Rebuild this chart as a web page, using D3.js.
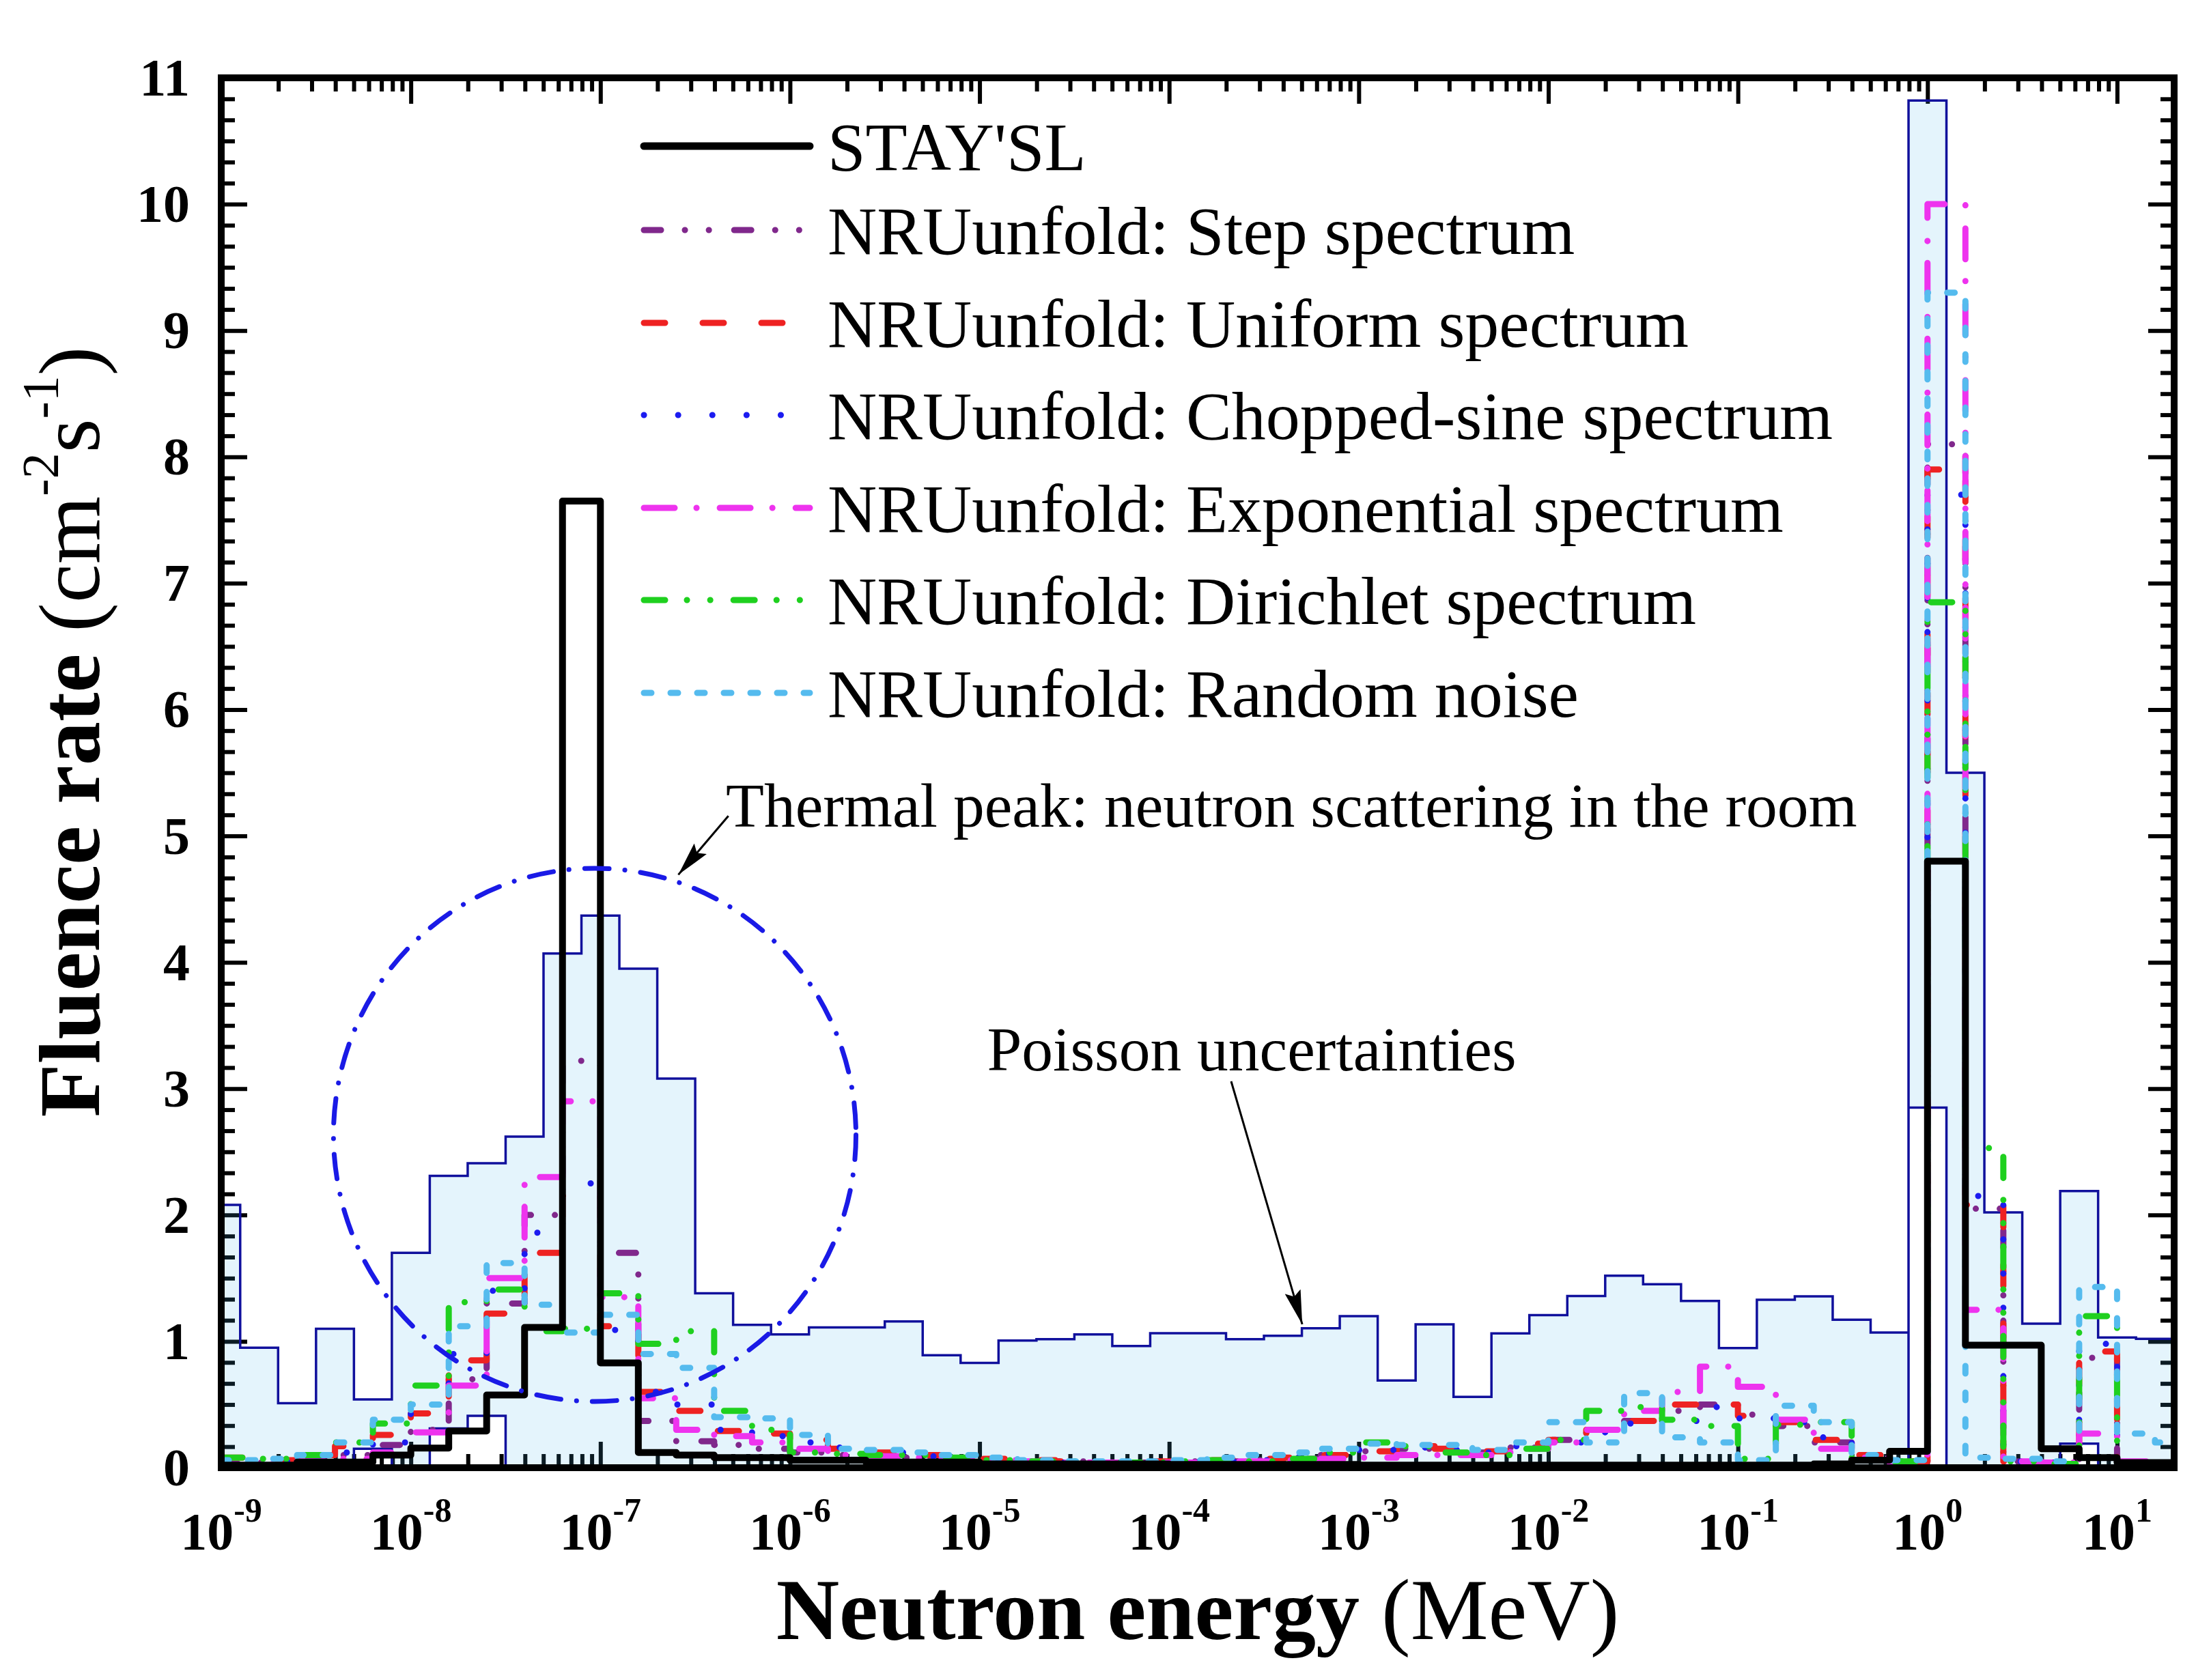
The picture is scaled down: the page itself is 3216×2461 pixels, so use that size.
<!DOCTYPE html>
<html>
<head>
<meta charset="utf-8">
<script src="https://cdn.jsdelivr.net/npm/d3@7"></script>
<style>
  body { margin: 0; background: #fff; }
  svg text { font-family: "Liberation Serif", "Times New Roman", serif; fill: #000; }
</style>
</head>
<body>
<script>
// ---- data (energies as log10 of MeV) ----

// STAY'SL unfolded spectrum, step histogram
const staysEdgeExp = [-9.0, -8.6, -8.2, -8.0, -7.8, -7.6, -7.4, -7.2, -7.0, -6.8, -6.6, -6.4, -6.0,
  -5.6, -5.0, -4.0, -3.0, -1.0, -0.6, -0.4, -0.2, 0.0, 0.2, 0.6, 0.8, 1.0, 1.301];
const staysRate = [0.02, 0.045, 0.10, 0.155, 0.29, 0.575, 1.11, 7.65, 0.83, 0.12, 0.10, 0.08, 0.06,
  0.045, 0.03, 0.025, 0.02, 0.02, 0.03, 0.06, 0.13, 4.80, 0.97, 0.15, 0.08, 0.04];

// Poisson uncertainty band (upper / lower bounds)
const bandEdgeExp = [-9.0, -8.9, -8.7, -8.5, -8.3, -8.1, -7.9, -7.7, -7.5, -7.3, -7.1, -6.9, -6.7,
  -6.5, -6.3, -6.1, -5.9, -5.7, -5.5, -5.3, -5.1, -4.9, -4.7, -4.5, -4.3, -4.1, -3.9, -3.7, -3.5,
  -3.3, -3.1, -2.9, -2.7, -2.5, -2.3, -2.1, -1.9, -1.7, -1.5, -1.3, -1.1, -0.9, -0.7, -0.5, -0.3,
  -0.1, 0.1, 0.3, 0.5, 0.7, 0.9, 1.1, 1.301];
const bandUpper = [2.08, 0.95, 0.51, 1.10, 0.54, 1.70, 2.31, 2.41, 2.62, 4.07,
  4.37, 3.95, 3.08, 1.38, 1.13, 1.055, 1.11, 1.11, 1.157, 0.89,
  0.83, 1.006, 1.017, 1.055, 0.963, 1.065, 1.065, 1.017, 1.044, 1.103,
  1.20, 0.69, 1.135, 0.56, 1.063, 1.207, 1.359, 1.52, 1.452, 1.32,
  0.947, 1.329, 1.356, 1.171, 1.07, 10.82, 5.50, 2.02, 1.14, 2.19,
  1.03, 1.02];
const bandLower = [0, 0, 0, 0, 0.15, 0, 0.31, 0.41, 0, 0,
  0, 0, 0, 0, 0, 0, 0, 0, 0, 0,
  0, 0, 0, 0, 0, 0, 0, 0, 0, 0,
  0, 0, 0, 0, 0, 0, 0, 0, 0, 0,
  0, 0, 0, 0, 0, 2.85, 0, 0, 0, 0.19,
  0, 0];

// NRUunfold results, common bin grid
const nruEdgeExp = [-9.0, -8.8, -8.6, -8.4, -8.2, -8.0, -7.8, -7.6, -7.4, -7.2, -7.0, -6.8, -6.6,
  -6.4, -6.2, -6.0, -5.8, -5.6, -5.4, -5.2, -5.0, -4.8, -4.6, -4.4, -4.2, -4.0, -3.8, -3.6, -3.4,
  -3.2, -3.0, -2.8, -2.6, -2.4, -2.2, -2.0, -1.8, -1.6, -1.4, -1.2, -1.0, -0.8, -0.6, -0.4, -0.2,
  0.0, 0.2, 0.4, 0.6, 0.8, 1.0, 1.2, 1.301];
const nruStep = [0.03, 0.04, 0.06, 0.10, 0.18, 0.30, 0.70, 1.30, 2.00, 3.22,
  1.70, 0.37, 0.21, 0.18, 0.15, 0.12, 0.10, 0.09, 0.08, 0.07,
  0.06, 0.05, 0.05, 0.04, 0.04, 0.05, 0.05, 0.06, 0.07, 0.10,
  0.13, 0.15, 0.12, 0.12, 0.16, 0.22, 0.30, 0.37, 0.45, 0.50,
  0.42, 0.33, 0.20, 0.10, 0.05, 8.10, 2.05, 0.05, 0.04, 0.87,
  0.04, 0.02];
const nruUniform = [0.08, 0.06, 0.10, 0.17, 0.26, 0.43, 0.85, 1.22, 1.70, 2.15,
  1.12, 0.60, 0.45, 0.29, 0.27, 0.22, 0.15, 0.12, 0.10, 0.08,
  0.07, 0.06, 0.05, 0.04, 0.05, 0.05, 0.06, 0.07, 0.08, 0.10,
  0.13, 0.17, 0.15, 0.13, 0.19, 0.22, 0.30, 0.37, 0.50, 0.50,
  0.41, 0.36, 0.22, 0.10, 0.05, 7.90, 2.08, 0.05, 0.04, 0.92,
  0.04, 0.02];
const nruChopped = [0.03, 0.05, 0.08, 0.12, 0.20, 0.50, 0.90, 1.40, 1.86, 2.25,
  1.09, 0.60, 0.50, 0.30, 0.25, 0.20, 0.16, 0.12, 0.09, 0.07,
  0.06, 0.05, 0.04, 0.04, 0.04, 0.05, 0.05, 0.06, 0.08, 0.11,
  0.14, 0.16, 0.14, 0.12, 0.17, 0.20, 0.28, 0.35, 0.37, 0.48,
  0.39, 0.36, 0.24, 0.10, 0.05, 7.70, 2.15, 0.05, 0.04, 0.98,
  0.04, 0.02];
const nruExponential = [0.02, 0.03, 0.05, 0.07, 0.12, 0.28, 0.65, 1.50, 2.30, 2.90,
  1.35, 0.55, 0.30, 0.25, 0.20, 0.15, 0.10, 0.09, 0.08, 0.07,
  0.06, 0.05, 0.04, 0.04, 0.04, 0.04, 0.05, 0.05, 0.06, 0.07,
  0.08, 0.10, 0.10, 0.10, 0.15, 0.20, 0.30, 0.45, 0.60, 0.80,
  0.64, 0.38, 0.15, 0.08, 0.04, 10.00, 1.25, 0.05, 0.04, 0.27,
  0.05, 0.03];
const nruDirichlet = [0.08, 0.07, 0.10, 0.20, 0.35, 0.65, 1.31, 1.41, 1.08, 1.10,
  1.38, 0.98, 1.08, 0.45, 0.30, 0.12, 0.11, 0.10, 0.10, 0.08,
  0.06, 0.05, 0.05, 0.04, 0.04, 0.05, 0.06, 0.05, 0.07, 0.12,
  0.20, 0.17, 0.12, 0.10, 0.15, 0.22, 0.45, 0.48, 0.38, 0.33,
  0.07, 0.34, 0.36, 0.08, 0.05, 6.85, 2.53, 0.05, 0.03, 1.20,
  0.03, 0.02];
const nruRandom = [0.06, 0.07, 0.10, 0.20, 0.38, 0.50, 1.12, 1.62, 1.29, 1.07,
  1.21, 0.90, 0.79, 0.40, 0.39, 0.26, 0.15, 0.14, 0.12, 0.10,
  0.08, 0.06, 0.05, 0.05, 0.05, 0.06, 0.08, 0.10, 0.12, 0.15,
  0.19, 0.18, 0.18, 0.14, 0.20, 0.36, 0.20, 0.59, 0.24, 0.20,
  0.06, 0.49, 0.36, 0.10, 0.06, 9.30, 0.08, 0.07, 0.05, 1.43,
  0.27, 0.20];

// axis ticks
const xTickExp = [-9, -8, -7, -6, -5, -4, -3, -2, -1, 0, 1];
const yTicks = [0, 1, 2, 3, 4, 5, 6, 7, 8, 9, 10, 11];

// annotations (data coordinates)
const thermalCircle = { exp: -7.03, rate: 2.634, halfDecades: 1.378, halfRate: 2.11 };
const thermalNote = { text: "Thermal peak: neutron scattering in the room", exp: -6.338, rate: 5.073,
  tail: [-6.325, 5.158], tip: [-6.589, 4.693] };
const poissonNote = { text: "Poisson uncertainties", exp: -4.961, rate: 3.144,
  tail: [-3.673, 3.058], tip: [-3.298, 1.135] };

// ---- layout ----
const width = 3216, height = 2461;
const marginTop = 114, marginRight = 32, marginBottom = 311, marginLeft = 324;

const x = d3.scaleLog().domain([1e-9, 20]).range([marginLeft, width - marginRight]);
const y = d3.scaleLinear().domain([0, 11]).range([height - marginBottom, marginTop]);
const px = e => x(Math.pow(10, e));

const series = [
  { name: "NRUunfold: Step spectrum", values: nruStep, color: "#80288c", dash: "25,35,0.1,35,0.1,37" },
  { name: "NRUunfold: Uniform spectrum", values: nruUniform, color: "#ee2222", dash: "31,55" },
  { name: "NRUunfold: Chopped-sine spectrum", values: nruChopped, color: "#1c1cf0", dash: "0.1,50" },
  { name: "NRUunfold: Exponential spectrum", values: nruExponential, color: "#ee33ee", dash: "45,32,0.1,34" },
  { name: "NRUunfold: Dirichlet spectrum", values: nruDirichlet, color: "#1fd01f", dash: "31,32,0.1,34,0.1,34" },
  { name: "NRUunfold: Random noise", values: nruRandom, color: "#55bbee", dash: "11,28" }
];

function stepPoints(edges, values) {
  const pts = [];
  values.forEach((v, i) => {
    pts.push([edges[i], v]);
    pts.push([edges[i + 1], v]);
  });
  return pts;
}

const svg = d3.select("body").append("svg")
  .attr("width", width)
  .attr("height", height);

svg.append("rect").attr("width", width).attr("height", height).attr("fill", "#fff");

svg.append("clipPath").attr("id", "plot-clip")
  .append("rect")
  .attr("x", marginLeft).attr("y", marginTop)
  .attr("width", width - marginLeft - marginRight)
  .attr("height", height - marginTop - marginBottom);

// ---- ticks (inward on all four sides) ----
const xMinor = [];
xTickExp.forEach(e => {
  for (let m = 2; m <= 9; m++) {
    const v = m * Math.pow(10, e);
    if (v < 20) xMinor.push(v);
  }
});
const xMajor = xTickExp.map(e => Math.pow(10, e));
const yMinor = d3.range(0, 66).map(k => k / 6).filter((v, k) => k % 6 !== 0);

const axes = svg.append("g");
function addTicks(axis, transform, values, size) {
  axes.append("g")
    .attr("transform", transform)
    .call(axis.tickValues(values).tickSize(size).tickFormat(""))
    .call(g => g.select(".domain").remove())
    .call(g => g.selectAll("line").attr("stroke", "#000").attr("stroke-width", 6));
}
const bottomY = height - marginBottom, rightX = width - marginRight;
addTicks(d3.axisBottom(x), `translate(0,${bottomY})`, xMajor, -38);
addTicks(d3.axisBottom(x), `translate(0,${bottomY})`, xMinor, -20);
addTicks(d3.axisTop(x), `translate(0,${marginTop})`, xMajor, -38);
addTicks(d3.axisTop(x), `translate(0,${marginTop})`, xMinor, -20);
addTicks(d3.axisLeft(y), `translate(${marginLeft},0)`, yTicks, -38);
addTicks(d3.axisLeft(y), `translate(${marginLeft},0)`, yMinor, -20);
addTicks(d3.axisRight(y), `translate(${rightX},0)`, yTicks, -38);
addTicks(d3.axisRight(y), `translate(${rightX},0)`, yMinor, -20);

// tick labels
xTickExp.forEach(e => {
  const t = svg.append("text")
    .attr("x", px(e))
    .attr("y", 2270)
    .attr("text-anchor", "middle")
    .attr("font-weight", "bold")
    .attr("font-size", 78);
  t.append("tspan").text("10");
  t.append("tspan").attr("dy", -41).attr("font-size", 50).text(String(e));
});
yTicks.forEach(v => {
  svg.append("text")
    .attr("x", 278)
    .attr("y", y(v) + 26)
    .attr("text-anchor", "end")
    .attr("font-weight", "bold")
    .attr("font-size", 78)
    .text(v);
});

// ---- data ----
const plot = svg.append("g").attr("clip-path", "url(#plot-clip)");

const bandPts = [];
bandUpper.forEach((u, i) => {
  bandPts.push({ e: bandEdgeExp[i], lo: bandLower[i], up: u });
  bandPts.push({ e: bandEdgeExp[i + 1], lo: bandLower[i], up: u });
});
const bandArea = d3.area()
  .x(d => px(d.e))
  .y0(d => y(d.lo))
  .y1(d => y(d.up));
plot.append("path").datum(bandPts)
  .attr("d", bandArea)
  .attr("fill", "#4db8e8")
  .attr("fill-opacity", 0.15);
plot.append("path").datum(bandPts)
  .attr("d", bandArea)
  .attr("fill", "none")
  .attr("stroke", "#10109c")
  .attr("stroke-width", 3.5);

const line = d3.line()
  .x(d => px(d[0]))
  .y(d => y(d[1]));

series.forEach(s => {
  plot.append("path")
    .datum(stepPoints(nruEdgeExp, s.values))
    .attr("d", line)
    .attr("fill", "none")
    .attr("stroke", s.color)
    .attr("stroke-width", 9)
    .attr("stroke-linecap", "round")
    .attr("stroke-linejoin", "round")
    .attr("stroke-dasharray", s.dash);
});

plot.append("path")
  .datum(stepPoints(staysEdgeExp, staysRate))
  .attr("d", line)
  .attr("fill", "none")
  .attr("stroke", "#000")
  .attr("stroke-width", 10)
  .attr("stroke-linejoin", "round");

// ---- annotations ----
const cx = px(thermalCircle.exp), cy = y(thermalCircle.rate);
svg.append("ellipse")
  .attr("cx", cx)
  .attr("cy", cy)
  .attr("rx", px(thermalCircle.exp + thermalCircle.halfDecades) - cx)
  .attr("ry", y(0) - y(thermalCircle.halfRate))
  .attr("fill", "none")
  .attr("stroke", "#1a1ae6")
  .attr("stroke-width", 7)
  .attr("stroke-linecap", "round")
  .attr("stroke-dasharray", "36,23,0.1,23");

svg.append("defs").append("marker")
  .attr("id", "head")
  .attr("markerUnits", "userSpaceOnUse")
  .attr("viewBox", "0 0 50 24")
  .attr("markerWidth", 50)
  .attr("markerHeight", 24)
  .attr("refX", 50)
  .attr("refY", 12)
  .attr("orient", "auto")
  .append("path")
  .attr("d", "M0,0 L50,12 L0,24 L8,12 Z")
  .attr("fill", "#000");

[thermalNote, poissonNote].forEach(n => {
  svg.append("line")
    .attr("x1", px(n.tail[0])).attr("y1", y(n.tail[1]))
    .attr("x2", px(n.tip[0])).attr("y2", y(n.tip[1]))
    .attr("stroke", "#000")
    .attr("stroke-width", 3)
    .attr("marker-end", "url(#head)");
  svg.append("text")
    .attr("x", px(n.exp))
    .attr("y", y(n.rate))
    .attr("font-size", 91.5)
    .text(n.text);
});

// frame
svg.append("rect")
  .attr("x", marginLeft).attr("y", marginTop)
  .attr("width", width - marginLeft - marginRight)
  .attr("height", height - marginTop - marginBottom)
  .attr("fill", "none")
  .attr("stroke", "#000")
  .attr("stroke-width", 10);

// ---- legend ----
const legendRows = [{ name: "STAY'SL", color: "#000", dash: null }].concat(series);
const legendY = [214, 337, 473, 608, 744, 879, 1015];
legendRows.forEach((r, i) => {
  const ly = legendY[i];
  svg.append("line")
    .attr("x1", 943).attr("x2", 1186)
    .attr("y1", ly).attr("y2", ly)
    .attr("stroke", r.color)
    .attr("stroke-width", r.dash ? 9 : 11)
    .attr("stroke-linecap", "round")
    .attr("stroke-dasharray", r.dash);
  svg.append("text")
    .attr("x", 1212)
    .attr("y", ly + 35)
    .attr("font-size", 100)
    .text(r.name);
});

// ---- axis titles ----
const xTitle = svg.append("text")
  .attr("x", (marginLeft + width - marginRight) / 2)
  .attr("y", 2401)
  .attr("text-anchor", "middle")
  .attr("font-size", 128);
xTitle.append("tspan").attr("font-weight", "bold").text("Neutron energy ");
xTitle.append("tspan").text("(MeV)");

const yTitle = svg.append("text")
  .attr("transform", "translate(145,1072) rotate(-90)")
  .attr("text-anchor", "middle")
  .attr("font-size", 128);
yTitle.append("tspan").attr("font-weight", "bold").text("Fluence rate ");
yTitle.append("tspan").text("(cm");
yTitle.append("tspan").attr("dy", -60).attr("font-size", 76).text("-2");
yTitle.append("tspan").attr("dy", 60).text("s");
yTitle.append("tspan").attr("dy", -60).attr("font-size", 76).text("-1");
yTitle.append("tspan").attr("dy", 60).text(")");
</script>
</body>
</html>
